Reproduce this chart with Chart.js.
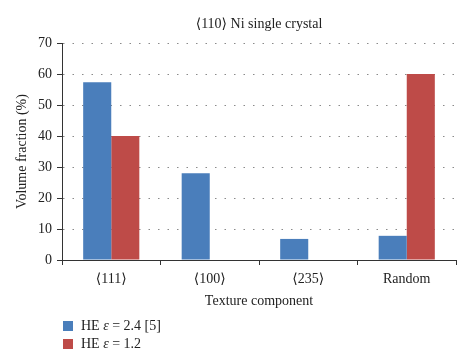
<!DOCTYPE html>
<html>
<head>
<meta charset="utf-8">
<script src="https://cdn.jsdelivr.net/npm/chart.js@4.4.1/dist/chart.umd.min.js"></script>
<style>
  html, body { margin: 0; padding: 0; background: #fff; }
  #wrap { position: relative; width: 474px; height: 362px; }
  .legend { position: absolute; left: 63px; font: 14px "Liberation Serif", "DejaVu Serif", serif; color: #222; }
  .legend span.box { display: inline-block; width: 10px; height: 10px; margin-right: 8px; vertical-align: -1px; }
</style>
</head>
<body>
<div id="wrap">
  <canvas id="myChart" width="474" height="362"></canvas>
  <div class="legend" style="top:318px"><span class="box" style="background:#4a7ebb"></span>HE <i>ε</i> = 2.4 [5]</div>
  <div class="legend" style="top:336px"><span class="box" style="background:#be4b48"></span>HE <i>ε</i> = 1.2</div>
</div>
<script>
"use strict";

const categories = ["\u27e8111\u27e9", "\u27e8100\u27e9", "\u27e8235\u27e9", "Random"];
const he24 = [57.3, 28, 6.8, 7.8];
const he12 = [40, 0, 0, 60];
const yTicks = [0, 10, 20, 30, 40, 50, 60, 70];
const chartTitle = "\u27e8110\u27e9 Ni single crystal";

const serif = "'Liberation Serif', 'DejaVu Serif', serif";

// title centered over the plot area, not the whole canvas
const titlePlugin = {
  id: "plotTitle",
  afterDraw(chart) {
    const c = chart.ctx;
    const area = chart.chartArea;
    c.save();
    c.font = "14px " + serif;
    c.fillStyle = "#222";
    c.textAlign = "center";
    c.textBaseline = "middle";
    c.fillText(chartTitle, (area.left + area.right) / 2, 24);
    c.restore();
  },
};

const ctx = document.getElementById("myChart");

new Chart(ctx, {
  type: "bar",
  data: {
    labels: categories,
    datasets: [
      {
        label: "HE \u03b5 = 2.4 [5]",
        data: he24,
        backgroundColor: "#4a7ebb",
        borderWidth: 0,
      },
      {
        label: "HE \u03b5 = 1.2",
        data: he12,
        backgroundColor: "#be4b48",
        borderWidth: 0,
      },
    ],
  },
  options: {
    responsive: false,
    animation: false,
    layout: {
      padding: { top: 43, right: 18, bottom: 48, left: 10 },
    },
    datasets: {
      bar: { categoryPercentage: 0.57, barPercentage: 1 },
    },
    plugins: {
      legend: { display: false },
      title: { display: false },
      tooltip: { enabled: false },
    },
    scales: {
      x: {
        afterFit(scale) {
          scale.height = 54;
        },
        grid: {
          display: true,
          drawOnChartArea: false,
          offset: true,
          tickLength: 5,
          tickColor: "#333",
        },
        border: { color: "#333", width: 1 },
        ticks: {
          color: "#222",
          padding: 6,
          font: { family: serif, size: 14 },
        },
        title: {
          display: true,
          text: "Texture component",
          color: "#222",
          font: { family: serif, size: 14 },
        },
      },
      y: {
        min: 0,
        max: 70,
        afterFit(scale) {
          scale.width = 52;
        },
        afterBuildTicks(scale) {
          scale.ticks = yTicks.map((v) => ({ value: v }));
        },
        grid: {
          color: (c) => (c.tick && c.tick.value === 0 ? "rgba(0,0,0,0)" : "#8a8a8a"),
          tickLength: 5,
          tickColor: "#333",
          tickBorderDash: [],
        },
        border: { color: "#333", width: 1, dash: [1.5, 8] },
        ticks: {
          color: "#222",
          padding: 5,
          font: { family: serif, size: 14 },
        },
        title: {
          display: true,
          text: "Volume fraction (%)",
          color: "#222",
          font: { family: serif, size: 14 },
        },
      },
    },
  },
  plugins: [titlePlugin],
});
</script>
</body>
</html>
